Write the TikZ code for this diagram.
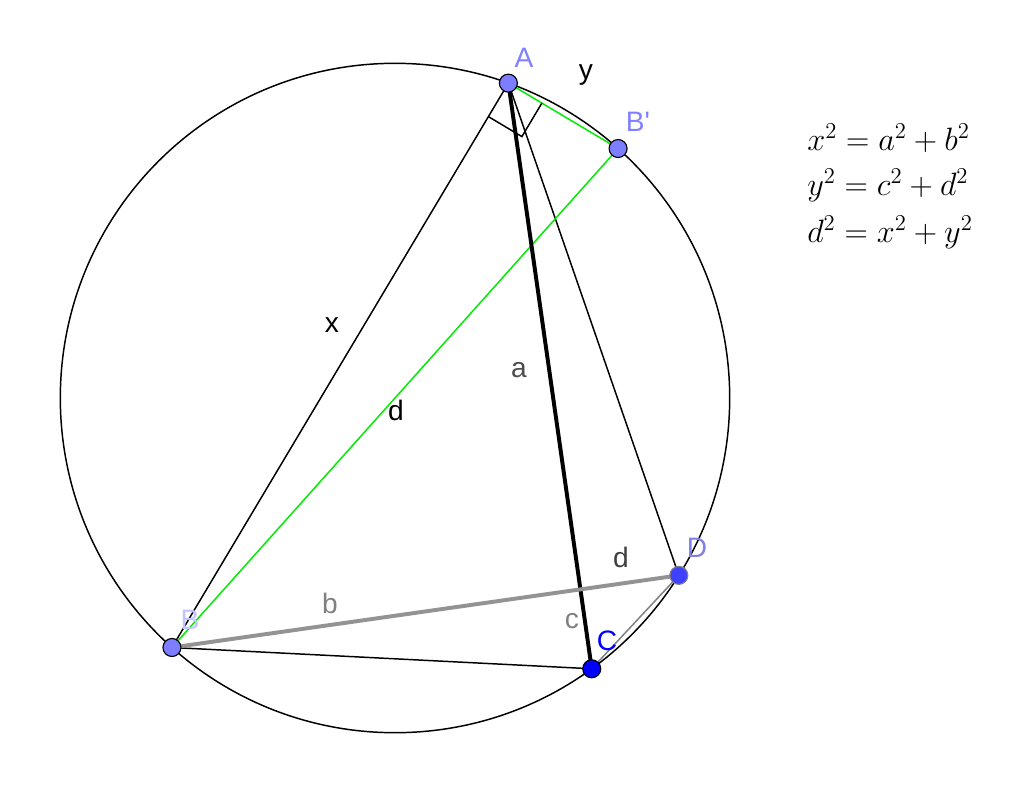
\RequirePackage{fix-cm}
\documentclass[tikz,border=0pt]{standalone}
\usepackage{fontspec}
\setsansfont{Liberation Sans}
\usetikzlibrary{calc,positioning}
\definecolor{ptblue}{RGB}{125,125,255}
\definecolor{lblblue}{RGB}{128,128,255}
\definecolor{paleblue}{RGB}{195,195,255}
\definecolor{geogreen}{RGB}{0,235,0}

\begin{document}
\begin{tikzpicture}[x=0.025cm,y=0.025cm,
    pt/.style={circle,draw=black,line width=0.8pt,fill=ptblue,inner sep=0pt,minimum size=0.45cm},
    lbl/.style={font=\sffamily\fontsize{20}{23}\selectfont},
    eqn/.style={anchor=west,inner sep=0pt,font=\fontsize{23}{33}\selectfont},
    seg/.style={line width=1.05pt}]

    \useasboundingbox (0,0) rectangle (1024,-791);

    \coordinate (O) at (395,-398);
    \draw[seg] (O) circle (8.365cm);

    \foreach \n/ \ang in {A/70.2,Bp/48.2,B/228.2,C/-54.0,D/-32.0}{
        \coordinate (\n) at ($(O)+(\ang:8.365cm)$);
    }

    % sides of the quadrilateral
    \draw[seg] (A) -- (B);
    \draw[seg] (A) -- (D);
    \draw[seg] (B) -- (C);
    \draw[seg,gray] (C) -- (D);
    \draw[seg,geogreen] (A) -- (Bp) -- (B);

    % the diagonals
    \draw[line width=2.8pt] (A) -- (C);
    \draw[line width=2.8pt,gray!85] (B) -- (D);

    % right angle at A
    \coordinate (r1) at ($(A)!0.975cm!(B)$);
    \coordinate (r2) at ($(A)!0.975cm!(Bp)$);
    \coordinate (r3) at ($(r1)+(r2)-(A)$);
    \draw[seg] (r1) -- (r3) -- (r2);

    \foreach \n in {A,Bp,B}{
        \node[pt] (p\n) at (\n) {};
    }
    \node[pt,fill=blue] (pC) at (C) {};
    \node[pt,draw=gray,fill=blue!75!white] (pD) at (D) {};

    \node[lbl,text=lblblue] (lA) at (524,-58) {A};
    \node[lbl,text=lblblue] (lBp) at (638,-122) {B\textquotesingle};
    \node[lbl,text=paleblue] (lB) at (190,-620) {B};
    \node[lbl,text=blue] (lC) at (607,-641) {C};
    \node[lbl,text=lblblue!80!gray] (lD) at (697,-548) {D};

    \node[lbl] (lx) at (332,-325) {x};
    \node[lbl] (ly) at (586,-75) {y};
    \node[lbl] (ld) at (396,-410) {d};
    \node[lbl,text=black!70] (la) at (519,-370) {a};
    \node[lbl,text=gray] (lb) at (330,-603) {b};
    \node[lbl,text=gray] (lc) at (572,-621) {c};
    \node[lbl,text=black!75] (ld2) at (621,-557) {d};

    \node[eqn] (eq1) at (807,-138) {$x^2=a^2+b^2$};
    \node[eqn] (eq2) at (807,-185) {$y^2=c^2+d^2$};
    \node[eqn] (eq3) at (807,-232) {$d^2=x^2+y^2$};

\end{tikzpicture}
\end{document}
